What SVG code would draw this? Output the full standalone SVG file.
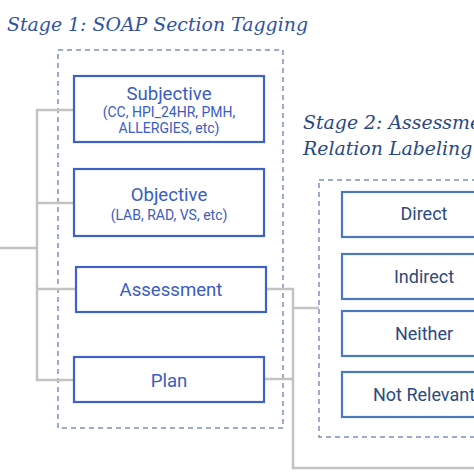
<svg xmlns="http://www.w3.org/2000/svg" width="474" height="474" viewBox="0 0 474 474">
<style>
.title{font-family:"DejaVu Serif","Liberation Serif",serif;font-style:italic;font-size:18.9px;}
.t1{fill:#3152a3;}
.t2{fill:#284886;}
.dash{fill:none;stroke:#7d90c2;stroke-width:1.5;stroke-dasharray:5,4;}
.b1{fill:#ffffff;stroke:#3e62c8;stroke-width:2.2;}
.b2{fill:#ffffff;stroke:#4c78bd;stroke-width:2.2;}
.lbl1{font-family:Roboto,"Liberation Sans",sans-serif;font-size:18.6px;fill:#3a5cc4;text-anchor:middle;}
.sub1{font-family:Roboto,"Liberation Sans",sans-serif;font-size:14px;fill:#3a5cc4;text-anchor:middle;}
.lbl2{font-family:Roboto,"Liberation Sans",sans-serif;font-size:18px;fill:#2b4a7f;text-anchor:middle;}
.conn{fill:none;stroke:#c3c3c3;stroke-width:2.5;}
</style>
<rect width="474" height="474" fill="#ffffff"/>
<text class="title t1" x="7" y="31">Stage 1: SOAP Section Tagging</text>
<text class="title t2" x="303" y="129">Stage 2: Assessment</text>
<text class="title t2" x="303" y="155">Relation Labeling</text>
<rect class="dash" x="58" y="50" width="225" height="378"/>
<rect class="dash" x="319" y="180" width="170" height="257"/>
<g id="connectors">
<polyline class="conn" points="74,110 37,110 37,380 74,380"/>
<line class="conn" x1="37" y1="203" x2="74" y2="203"/>
<line class="conn" x1="0" y1="248" x2="37" y2="248"/>
<line class="conn" x1="37" y1="289" x2="76" y2="289"/>
<polyline class="conn" points="266,289 293,289 293,468 474,468"/>
<line class="conn" x1="293" y1="308" x2="319" y2="308"/>
<line class="conn" x1="264" y1="379" x2="293" y2="379"/>
</g>
<g id="subjective">
<rect class="b1" x="74" y="76" width="190" height="66"/>
<text class="lbl1" x="169" y="100">Subjective</text>
<text class="sub1" x="169" y="117">(CC, HPI_24HR, PMH,</text>
<text class="sub1" x="169" y="133">ALLERGIES, etc)</text>
</g>
<g id="objective">
<rect class="b1" x="74" y="169" width="190" height="67"/>
<text class="lbl1" x="169" y="201">Objective</text>
<text class="sub1" x="169" y="220">(LAB, RAD, VS, etc)</text>
</g>
<g id="assessment">
<rect class="b1" x="76" y="267" width="190" height="45"/>
<text class="lbl1" x="171" y="296">Assessment</text>
</g>
<g id="plan">
<rect class="b1" x="74" y="357" width="190" height="45"/>
<text class="lbl1" x="169" y="387">Plan</text>
</g>
<g id="direct">
<rect class="b2" x="342" y="192" width="164" height="45"/>
<text class="lbl2" x="424" y="220">Direct</text>
</g>
<g id="indirect">
<rect class="b2" x="342" y="254" width="164" height="45"/>
<text class="lbl2" x="424" y="283">Indirect</text>
</g>
<g id="neither">
<rect class="b2" x="342" y="311" width="164" height="45"/>
<text class="lbl2" x="424" y="340">Neither</text>
</g>
<g id="notrelevant">
<rect class="b2" x="342" y="372" width="164" height="45"/>
<text class="lbl2" x="424" y="401">Not Relevant</text>
</g>
</svg>
